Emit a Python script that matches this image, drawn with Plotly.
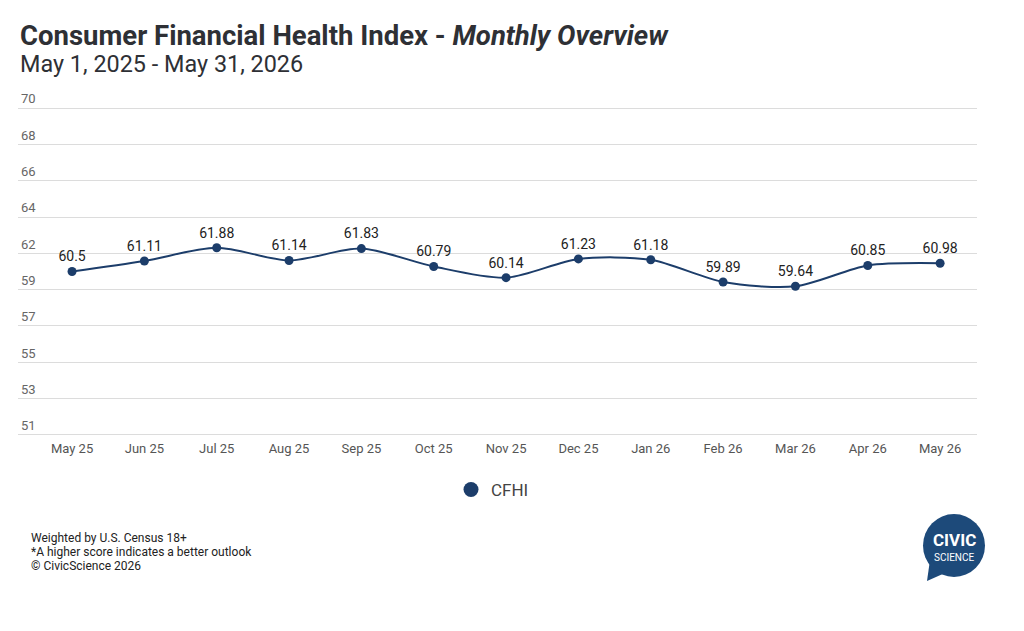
import plotly.graph_objects as go

months = ["May 25", "Jun 25", "Jul 25", "Aug 25", "Sep 25", "Oct 25", "Nov 25",
          "Dec 25", "Jan 26", "Feb 26", "Mar 26", "Apr 26", "May 26"]
cfhi = [60.5, 61.11, 61.88, 61.14, 61.83, 60.79, 60.14, 61.23, 61.18, 59.89, 59.64, 60.85, 60.98]
y_min, y_max = 51, 70
n_ticks = 10
tick_vals = [y_min + (y_max - y_min) * k / (n_ticks - 1) for k in range(n_ticks)]
tick_text = ["51", "53", "55", "57", "59", "62", "64", "66", "68", "70"]
footnotes = ["Weighted by U.S. Census 18+",
             "*A higher score indicates a better outlook",
             "© CivicScience 2026"]

W, H = 1024, 631
L, R, T, B = 18, 47, 107, 195
PW, PH = W - L - R, H - T - B

def px(x):
    return (x - L) / PW

def py(y):
    return (H - B - y) / PH

NAVY = "#1c3d6a"
pad = 0.06

fig = go.Figure()
fig.add_trace(go.Scatter(
    x=list(range(len(months))), y=cfhi, mode="lines+markers+text",
    name="CFHI", showlegend=False,
    line=dict(color=NAVY, width=2, shape="spline", smoothing=0.8),
    marker=dict(color=NAVY, size=9),
    text=[f"{v:g}" for v in cfhi], textposition="top center",
    textfont=dict(family="Roboto", size=14, color="#222222"),
    cliponaxis=False,
))
fig.add_trace(go.Scatter(
    x=[None], y=[None], mode="markers", name="CFHI", showlegend=True,
    marker=dict(color=NAVY, size=15),
))

annotations = [
    dict(text="<b>Consumer Financial Health Index - <i>Monthly Overview</i></b>",
         xref="paper", yref="paper", x=px(18), y=py(17), xanchor="left", yanchor="top",
         showarrow=False, font=dict(family="Roboto", size=27.5, color="#2e3035")),
    dict(text="May 1, 2025 - May 31, 2026",
         xref="paper", yref="paper", x=px(18), y=py(48), xanchor="left", yanchor="top",
         showarrow=False, font=dict(family="Roboto", size=23.4, color="#2e3035")),
    dict(text="<b>CIVIC</b>", xref="paper", yref="paper", x=px(954), y=py(540),
         xanchor="center", yanchor="middle", showarrow=False,
         font=dict(family="Roboto", size=17, color="white")),
    dict(text="SCIENCE", xref="paper", yref="paper", x=px(954), y=py(557),
         xanchor="center", yanchor="middle", showarrow=False,
         font=dict(family="Roboto", size=10, color="white")),
]
for i, line in enumerate(footnotes):
    annotations.append(dict(text=line, xref="paper", yref="paper", x=px(29), y=py(538 + 14 * i),
                            xanchor="left", yanchor="middle", showarrow=False,
                            font=dict(family="Roboto", size=12, color="#222222")))

fig.update_layout(
    width=W, height=H, margin=dict(l=L, r=R, t=T, b=B),
    paper_bgcolor="white", plot_bgcolor="white",
    font=dict(family="Roboto", color="#555555"),
    showlegend=True,
    legend=dict(orientation="h", x=0.5 - 5 / PW, xanchor="center", y=py(490), yanchor="middle",
                font=dict(size=17, color="#444444")),
    xaxis=dict(
        range=[-0.747, 12.51], tickmode="array", tickvals=list(range(len(months))),
        ticktext=months, showgrid=False, zeroline=False, showline=False,
        tickfont=dict(size=13, color="#555555"), ticks="", ticklabelstandoff=3,
    ),
    yaxis=dict(
        range=[y_min - pad, y_max + pad], tickmode="array", tickvals=tick_vals, ticktext=tick_text,
        showgrid=True, gridcolor="#dcdcdc", gridwidth=1, zeroline=False, showline=False,
        ticklabelposition="inside top", ticklabeloverflow="allow",
        tickfont=dict(size=13, color="#666666"), ticks="",
    ),
    annotations=annotations,
    shapes=[
        dict(type="circle", xref="paper", yref="paper", x0=px(923), x1=px(985),
             y0=py(577), y1=py(514), fillcolor="#1d4a7a", line=dict(width=0), layer="below"),
        dict(type="path", xref="paper", yref="paper",
             path=f"M {px(930)},{py(560)} L {px(927)},{py(581)} L {px(945)},{py(573)} Z",
             fillcolor="#1d4a7a", line=dict(width=0), layer="below"),
    ],
)

fig.write_html("out.html")
